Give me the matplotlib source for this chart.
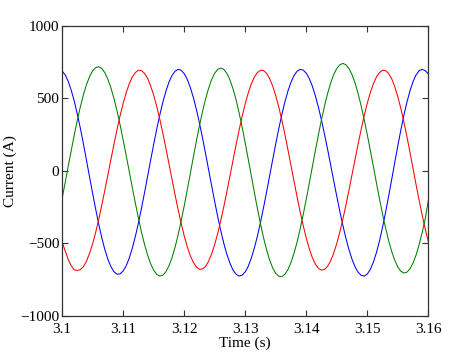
import numpy as np
import matplotlib.pyplot as plt

# sample times (s), 0.5 ms apart
t = np.linspace(3.100, 3.160, 121)

# phase currents (A)
i_blue = [690, 663, 619, 556, 481, 391, 293, 185, 72, -42,
          -155, -264, -368, -461, -543, -611, -662, -697, -714, -712,
          -692, -656, -603, -535, -454, -361, -260, -152, -40, 72,
          182, 287, 385, 473, 549, 612, 658, 688, 701, 695,
          672, 633, 577, 507, 425, 331, 229, 121, 9, -102,
          -212, -317, -414, -502, -577, -638, -685, -714, -727, -721,
          -698, -659, -603, -533, -451, -357, -255, -147, -35, 76,
          186, 291, 388, 476, 551, 612, 659, 688, 701, 696,
          675, 637, 585, 518, 439, 350, 252, 149, 41, -68,
          -175, -279, -376, -466, -544, -611, -663, -701, -722, -727,
          -713, -681, -631, -565, -484, -390, -286, -175, -60, 57,
          172, 282, 384, 475, 553, 617, 663, 692, 701, 692,
          670]
i_red = [-490, -553, -612, -656, -684, -688, -683, -661, -624, -570,
         -504, -425, -336, -238, -135, -29, 79, 185, 286, 381,
         466, 540, 601, 648, 679, 695, 693, 674, 640, 588,
         524, 446, 358, 261, 158, 51, -57, -164, -266, -361,
         -448, -523, -585, -632, -664, -680, -678, -660, -625, -574,
         -509, -431, -343, -246, -143, -36, 72, 179, 281, 376,
         463, 538, 600, 648, 679, 695, 693, 674, 638, 586,
         520, 441, 351, 252, 146, 37, -72, -180, -282, -378,
         -464, -538, -599, -645, -674, -686, -681, -659, -622, -569,
         -502, -423, -334, -237, -134, -27, 80, 185, 286, 382,
         467, 541, 601, 648, 679, 695, 693, 673, 636, 582,
         513, 431, 338, 236, 127, 16, -96, -204, -307, -403,
         -488]
i_green = [-193, -82, 30, 141, 249, 351, 444, 527, 596, 651,
           691, 713, 719, 707, 678, 633, 573, 499, 414, 318,
           214, 107, -4, -115, -222, -326, -422, -507, -581, -641,
           -686, -715, -727, -721, -698, -657, -601, -529, -444, -348,
           -244, -133, -20, 94, 205, 311, 409, 495, 570, 630,
           674, 701, 710, 701, 673, 628, 567, 491, 401, 302,
           194, 81, -33, -149, -260, -365, -461, -545, -616, -670,
           -708, -728, -731, -715, -682, -633, -569, -492, -402, -303,
           -197, -85, 28, 141, 250, 354, 449, 534, 606, 665,
           707, 733, 742, 733, 707, 665, 607, 533, 449, 353,
           250, 141, 30, -83, -193, -297, -395, -482, -557, -618,
           -664, -694, -706, -700, -677, -637, -581, -509, -425, -330,
           -205]

plt.rcParams['font.family'] = ['Liberation Serif', 'DejaVu Serif']
plt.rcParams['font.size'] = 11

fig = plt.figure(figsize=(4.74, 3.55), dpi=100)
ax = fig.add_axes([0.131, 0.111, 0.7726, 0.8155])

ax.plot(t, i_blue, color=(0, 0, 1), lw=0.75)
ax.plot(t, i_red, color=(1, 0, 0), lw=0.75)
ax.plot(t, i_green, color=(0, 0.5, 0), lw=0.75)

ax.set_xlim(3.1, 3.16)
ax.set_ylim(-1000, 1000)
ax.set_xticks([3.1, 3.11, 3.12, 3.13, 3.14, 3.15, 3.16])
ax.set_xticklabels(['3.1', '3.11', '3.12', '3.13', '3.14', '3.15', '3.16'])
ax.set_yticks([-1000, -500, 0, 500, 1000])
ax.tick_params(direction='in', length=4, width=0.8, top=True, right=True,
               colors='#333333', labelcolor='black')
ax.tick_params(axis='x', pad=5)
ax.tick_params(axis='y', pad=2)
for s in ax.spines.values():
    s.set_linewidth(0.9)
    s.set_color('#333333')

ax.set_xlabel('Time (s)', labelpad=1)
ax.set_ylabel('Current (A)', labelpad=2)

fig.savefig('out.png', dpi=100)
